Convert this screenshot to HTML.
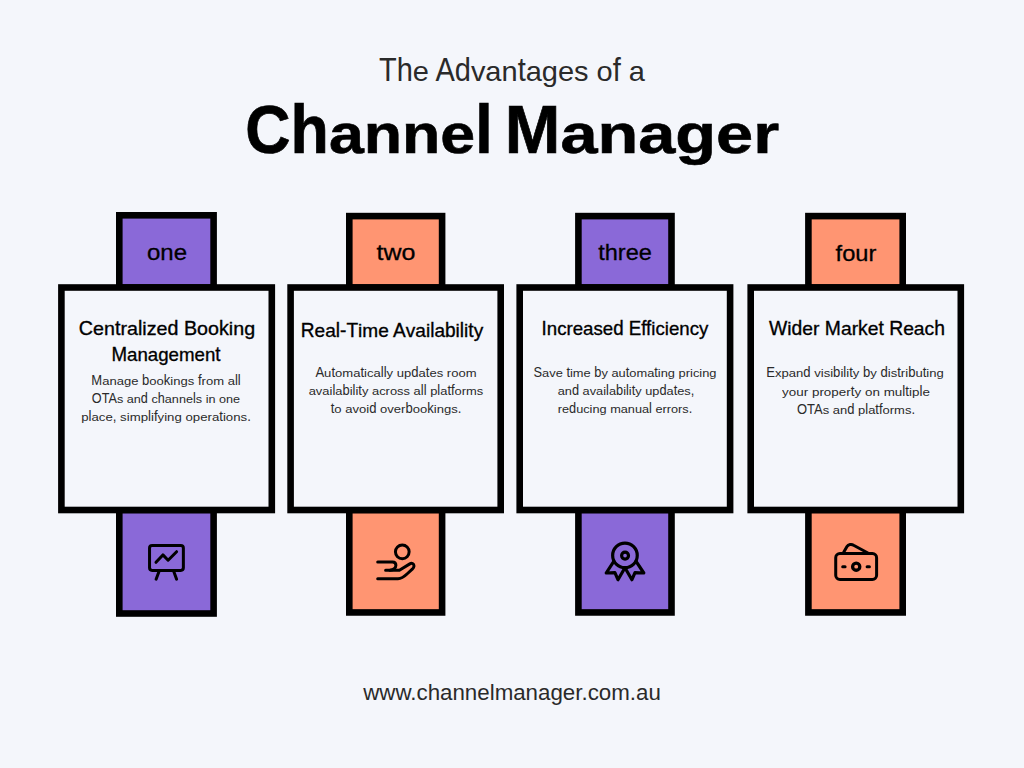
<!DOCTYPE html>
<html><head><meta charset="utf-8"><style>
html,body{margin:0;padding:0;}
body{width:1024px;height:768px;background:#F4F6FB;position:relative;overflow:hidden;font-family:"Liberation Sans",sans-serif;}
svg{position:absolute;left:0;top:0;}
.x{display:inline-block;line-height:0;}
.t{position:absolute;width:1000px;height:0;line-height:0;text-align:center;white-space:nowrap;transform-origin:500px 0;}
</style></head><body>
<svg width="1024" height="768" viewBox="0 0 1024 768">
<rect x="116.00" y="212.00" width="100.90" height="78.80" fill="#000"/>
<rect x="122.60" y="218.60" width="87.70" height="65.60" fill="#8A69D8"/>
<rect x="116.00" y="506.70" width="100.90" height="110.10" fill="#000"/>
<rect x="122.60" y="513.30" width="87.70" height="96.90" fill="#8A69D8"/>
<rect x="58.10" y="284.20" width="217.00" height="229.10" fill="#000"/>
<rect x="64.70" y="290.80" width="203.80" height="215.90" fill="#F4F6FB"/>
<rect x="346.00" y="212.80" width="99.40" height="78.00" fill="#000"/>
<rect x="352.60" y="219.40" width="86.20" height="64.80" fill="#FF9572"/>
<rect x="346.00" y="506.70" width="99.40" height="109.05" fill="#000"/>
<rect x="352.60" y="513.30" width="86.20" height="95.85" fill="#FF9572"/>
<rect x="287.30" y="284.20" width="216.70" height="229.10" fill="#000"/>
<rect x="293.90" y="290.80" width="203.50" height="215.90" fill="#F4F6FB"/>
<rect x="575.10" y="212.80" width="99.70" height="78.00" fill="#000"/>
<rect x="581.70" y="219.40" width="86.50" height="64.80" fill="#8A69D8"/>
<rect x="575.10" y="506.70" width="99.70" height="109.05" fill="#000"/>
<rect x="581.70" y="513.30" width="86.50" height="95.85" fill="#8A69D8"/>
<rect x="516.40" y="284.20" width="217.00" height="229.10" fill="#000"/>
<rect x="523.00" y="290.80" width="203.80" height="215.90" fill="#F4F6FB"/>
<rect x="805.10" y="212.80" width="100.90" height="78.00" fill="#000"/>
<rect x="811.70" y="219.40" width="87.70" height="64.80" fill="#FF9572"/>
<rect x="805.10" y="506.70" width="100.90" height="109.05" fill="#000"/>
<rect x="811.70" y="513.30" width="87.70" height="95.85" fill="#FF9572"/>
<rect x="747.40" y="284.20" width="216.70" height="229.10" fill="#000"/>
<rect x="754.00" y="290.80" width="203.50" height="215.90" fill="#F4F6FB"/>
<g fill="none" stroke="#000" stroke-linecap="round" stroke-linejoin="round">

<g stroke-width="3.0">
<rect x="149.54" y="545.45" width="33.83" height="25.01" rx="2.6"/>
<path d="M156.0 562.3 L162.9 554.9 L168.1 560.2 L176.6 551.7"/>
<path d="M159.1 571.2 L156.1 579.2 M173.7 571.2 L176.6 579.2"/>
</g>
<g stroke-width="3.0">
<circle cx="402.29" cy="551.85" r="6.85"/>
<path d="M377.7 561.97 H392.5 C395 561.97 395.9 563.6 395.9 565.3 C395.9 567.8 393.5 570.17 390 570.17"/>
<path d="M385.6 570.17 H399.4 L409.8 563.9 C411.8 562.7 414 563.6 414 566 C414 567.2 413.3 568.2 412.3 569.2 L407 574 C404.5 576.4 401.5 578.66 398 578.66 H377.7"/>
</g>
<g stroke-width="3.2">
<circle cx="624.95" cy="555.4" r="12.3"/>
<circle cx="625.05" cy="555.6" r="3.45"/>
<path d="M624.95 567.7 L617.98 579.7 L614.9 572.6 L606.2 573.0 L613.8 561.3"/>
<path d="M624.95 567.7 L631.92 579.7 L635.0 572.6 L643.8 573.0 L636.1 561.3"/>
</g>
<g stroke-width="3.0">
<rect x="835.72" y="553.47" width="40.88" height="25.93" rx="4.2"/>
<circle cx="856.2" cy="566.65" r="3.6" stroke-width="3.3"/>
<path d="M842.7 566.65 H845.1 M867.1 566.65 H869.4"/>
<path d="M843.7 552.3 L847.0 546.5 C848.3 544.3 851.6 543.9 853.6 545.2 L867.9 553.0"/>
</g>

</g>
</svg>
<div class="t" style="left:11.80px;top:69.61px;font-size:33.40px;font-weight:normal;transform:scaleX(0.8683);color:#2a2a2a;">Th<span class="x" style="transform:scaleY(0.820);transform-origin:0 11.50px">e</span> Ad<span class="x" style="transform:scaleY(0.820);transform-origin:0 11.50px">van</span>t<span class="x" style="transform:scaleY(0.820);transform-origin:0 11.50px">ages</span> <span class="x" style="transform:scaleY(0.820);transform-origin:0 11.50px">o</span>f <span class="x" style="transform:scaleY(0.820);transform-origin:0 11.50px">a</span></div>
<div class="t" style="left:-130.80px;top:129.10px;font-size:68.00px;font-weight:bold;transform:scaleX(0.9217);color:#000;-webkit-text-stroke:0.7px #000;">Ch<span class="x" style="transform:scaleY(0.810);transform-origin:0 24.00px">anne</span>l</div>
<div class="t" style="left:141.60px;top:129.10px;font-size:68.00px;font-weight:bold;transform:scaleX(0.9810);color:#000;-webkit-text-stroke:0.7px #000;">M<span class="x" style="transform:scaleY(0.810);transform-origin:0 24.00px">anager</span></div>
<div class="t" style="left:-333.50px;top:251.91px;font-size:22.70px;font-weight:normal;transform:scaleX(1.0582);color:#000;-webkit-text-stroke:0.3px #000;">one</div>
<div class="t" style="left:-103.90px;top:252.22px;font-size:22.70px;font-weight:normal;transform:scaleX(1.1014);color:#000;-webkit-text-stroke:0.3px #000;">two</div>
<div class="t" style="left:124.60px;top:251.72px;font-size:22.70px;font-weight:normal;transform:scaleX(1.0385);color:#000;-webkit-text-stroke:0.3px #000;">three</div>
<div class="t" style="left:356.20px;top:252.72px;font-size:22.70px;font-weight:normal;transform:scaleX(1.0424);color:#000;-webkit-text-stroke:0.3px #000;">four</div>
<div class="t" style="left:-333.50px;top:327.90px;font-size:20.00px;font-weight:normal;transform:scaleX(0.9847);color:#000;-webkit-text-stroke:0.35px #000;">C<span class="x" style="transform:scaleY(0.890);transform-origin:0 7.00px">en</span>t<span class="x" style="transform:scaleY(0.890);transform-origin:0 7.00px">ra</span>l<span class="x" style="transform:scaleY(0.890);transform-origin:0 7.00px">ize</span>d B<span class="x" style="transform:scaleY(0.890);transform-origin:0 7.00px">oo</span>k<span class="x" style="transform:scaleY(0.890);transform-origin:0 7.00px">ing</span></div>
<div class="t" style="left:-333.90px;top:354.01px;font-size:20.00px;font-weight:normal;transform:scaleX(0.9345);color:#000;-webkit-text-stroke:0.35px #000;">M<span class="x" style="transform:scaleY(0.890);transform-origin:0 7.00px">anagemen</span>t</div>
<div class="t" style="left:-108.00px;top:329.90px;font-size:20.00px;font-weight:normal;transform:scaleX(0.9535);color:#000;-webkit-text-stroke:0.35px #000;">R<span class="x" style="transform:scaleY(0.890);transform-origin:0 7.00px">ea</span>l-T<span class="x" style="transform:scaleY(0.890);transform-origin:0 7.00px">ime</span> A<span class="x" style="transform:scaleY(0.890);transform-origin:0 7.00px">vai</span>l<span class="x" style="transform:scaleY(0.890);transform-origin:0 7.00px">a</span>b<span class="x" style="transform:scaleY(0.890);transform-origin:0 7.00px">i</span>l<span class="x" style="transform:scaleY(0.890);transform-origin:0 7.00px">i</span>t<span class="x" style="transform:scaleY(0.890);transform-origin:0 7.00px">y</span></div>
<div class="t" style="left:124.70px;top:327.90px;font-size:20.00px;font-weight:normal;transform:scaleX(0.9337);color:#000;-webkit-text-stroke:0.35px #000;">I<span class="x" style="transform:scaleY(0.890);transform-origin:0 7.00px">ncrease</span>d Eff<span class="x" style="transform:scaleY(0.890);transform-origin:0 7.00px">iciency</span></div>
<div class="t" style="left:356.50px;top:327.90px;font-size:20.00px;font-weight:normal;transform:scaleX(0.9652);color:#000;-webkit-text-stroke:0.35px #000;">W<span class="x" style="transform:scaleY(0.890);transform-origin:0 7.00px">i</span>d<span class="x" style="transform:scaleY(0.890);transform-origin:0 7.00px">er</span> M<span class="x" style="transform:scaleY(0.890);transform-origin:0 7.00px">ar</span>k<span class="x" style="transform:scaleY(0.890);transform-origin:0 7.00px">e</span>t R<span class="x" style="transform:scaleY(0.890);transform-origin:0 7.00px">eac</span>h</div>
<div class="t" style="left:-333.60px;top:380.81px;font-size:13.80px;font-weight:normal;transform:scaleX(0.9452);color:#2a2a2a;">M<span class="x" style="transform:scaleY(0.840);transform-origin:0 4.50px">anage</span> b<span class="x" style="transform:scaleY(0.840);transform-origin:0 4.50px">oo</span>k<span class="x" style="transform:scaleY(0.840);transform-origin:0 4.50px">ings</span> f<span class="x" style="transform:scaleY(0.840);transform-origin:0 4.50px">rom</span> <span class="x" style="transform:scaleY(0.840);transform-origin:0 4.50px">a</span>ll</div>
<div class="t" style="left:-333.80px;top:398.81px;font-size:13.80px;font-weight:normal;transform:scaleX(0.9169);color:#2a2a2a;">OTA<span class="x" style="transform:scaleY(0.840);transform-origin:0 4.50px">s</span> <span class="x" style="transform:scaleY(0.840);transform-origin:0 4.50px">an</span>d <span class="x" style="transform:scaleY(0.840);transform-origin:0 4.50px">c</span>h<span class="x" style="transform:scaleY(0.840);transform-origin:0 4.50px">anne</span>l<span class="x" style="transform:scaleY(0.840);transform-origin:0 4.50px">s</span> <span class="x" style="transform:scaleY(0.840);transform-origin:0 4.50px">in</span> <span class="x" style="transform:scaleY(0.840);transform-origin:0 4.50px">one</span></div>
<div class="t" style="left:-334.20px;top:417.21px;font-size:13.80px;font-weight:normal;transform:scaleX(0.9572);color:#2a2a2a;"><span class="x" style="transform:scaleY(0.840);transform-origin:0 4.50px">p</span>l<span class="x" style="transform:scaleY(0.840);transform-origin:0 4.50px">ace</span>, <span class="x" style="transform:scaleY(0.840);transform-origin:0 4.50px">simp</span>l<span class="x" style="transform:scaleY(0.840);transform-origin:0 4.50px">i</span>f<span class="x" style="transform:scaleY(0.840);transform-origin:0 4.50px">ying</span> <span class="x" style="transform:scaleY(0.840);transform-origin:0 4.50px">opera</span>t<span class="x" style="transform:scaleY(0.840);transform-origin:0 4.50px">ions</span>.</div>
<div class="t" style="left:-104.10px;top:373.00px;font-size:13.80px;font-weight:normal;transform:scaleX(0.9459);color:#2a2a2a;">A<span class="x" style="transform:scaleY(0.840);transform-origin:0 4.50px">u</span>t<span class="x" style="transform:scaleY(0.840);transform-origin:0 4.50px">oma</span>t<span class="x" style="transform:scaleY(0.840);transform-origin:0 4.50px">ica</span>ll<span class="x" style="transform:scaleY(0.840);transform-origin:0 4.50px">y</span> <span class="x" style="transform:scaleY(0.840);transform-origin:0 4.50px">up</span>d<span class="x" style="transform:scaleY(0.840);transform-origin:0 4.50px">a</span>t<span class="x" style="transform:scaleY(0.840);transform-origin:0 4.50px">es</span> <span class="x" style="transform:scaleY(0.840);transform-origin:0 4.50px">room</span></div>
<div class="t" style="left:-104.20px;top:391.00px;font-size:13.80px;font-weight:normal;transform:scaleX(0.9363);color:#2a2a2a;"><span class="x" style="transform:scaleY(0.840);transform-origin:0 4.50px">avai</span>l<span class="x" style="transform:scaleY(0.840);transform-origin:0 4.50px">a</span>b<span class="x" style="transform:scaleY(0.840);transform-origin:0 4.50px">i</span>l<span class="x" style="transform:scaleY(0.840);transform-origin:0 4.50px">i</span>t<span class="x" style="transform:scaleY(0.840);transform-origin:0 4.50px">y</span> <span class="x" style="transform:scaleY(0.840);transform-origin:0 4.50px">across</span> <span class="x" style="transform:scaleY(0.840);transform-origin:0 4.50px">a</span>ll <span class="x" style="transform:scaleY(0.840);transform-origin:0 4.50px">p</span>l<span class="x" style="transform:scaleY(0.840);transform-origin:0 4.50px">a</span>tf<span class="x" style="transform:scaleY(0.840);transform-origin:0 4.50px">orms</span></div>
<div class="t" style="left:-104.10px;top:409.31px;font-size:13.80px;font-weight:normal;transform:scaleX(0.9460);color:#2a2a2a;">t<span class="x" style="transform:scaleY(0.840);transform-origin:0 4.50px">o</span> <span class="x" style="transform:scaleY(0.840);transform-origin:0 4.50px">avoi</span>d <span class="x" style="transform:scaleY(0.840);transform-origin:0 4.50px">over</span>b<span class="x" style="transform:scaleY(0.840);transform-origin:0 4.50px">oo</span>k<span class="x" style="transform:scaleY(0.840);transform-origin:0 4.50px">ings</span>.</div>
<div class="t" style="left:124.80px;top:373.00px;font-size:13.80px;font-weight:normal;transform:scaleX(0.9313);color:#2a2a2a;">S<span class="x" style="transform:scaleY(0.840);transform-origin:0 4.50px">ave</span> t<span class="x" style="transform:scaleY(0.840);transform-origin:0 4.50px">ime</span> b<span class="x" style="transform:scaleY(0.840);transform-origin:0 4.50px">y</span> <span class="x" style="transform:scaleY(0.840);transform-origin:0 4.50px">au</span>t<span class="x" style="transform:scaleY(0.840);transform-origin:0 4.50px">oma</span>t<span class="x" style="transform:scaleY(0.840);transform-origin:0 4.50px">ing</span> <span class="x" style="transform:scaleY(0.840);transform-origin:0 4.50px">pricing</span></div>
<div class="t" style="left:125.70px;top:391.00px;font-size:13.80px;font-weight:normal;transform:scaleX(0.9267);color:#2a2a2a;"><span class="x" style="transform:scaleY(0.840);transform-origin:0 4.50px">an</span>d <span class="x" style="transform:scaleY(0.840);transform-origin:0 4.50px">avai</span>l<span class="x" style="transform:scaleY(0.840);transform-origin:0 4.50px">a</span>b<span class="x" style="transform:scaleY(0.840);transform-origin:0 4.50px">i</span>l<span class="x" style="transform:scaleY(0.840);transform-origin:0 4.50px">i</span>t<span class="x" style="transform:scaleY(0.840);transform-origin:0 4.50px">y</span> <span class="x" style="transform:scaleY(0.840);transform-origin:0 4.50px">up</span>d<span class="x" style="transform:scaleY(0.840);transform-origin:0 4.50px">a</span>t<span class="x" style="transform:scaleY(0.840);transform-origin:0 4.50px">es</span>,</div>
<div class="t" style="left:124.70px;top:409.31px;font-size:13.80px;font-weight:normal;transform:scaleX(0.9227);color:#2a2a2a;"><span class="x" style="transform:scaleY(0.840);transform-origin:0 4.50px">re</span>d<span class="x" style="transform:scaleY(0.840);transform-origin:0 4.50px">ucing</span> <span class="x" style="transform:scaleY(0.840);transform-origin:0 4.50px">manua</span>l <span class="x" style="transform:scaleY(0.840);transform-origin:0 4.50px">errors</span>.</div>
<div class="t" style="left:355.00px;top:373.00px;font-size:13.80px;font-weight:normal;transform:scaleX(0.9487);color:#2a2a2a;">E<span class="x" style="transform:scaleY(0.840);transform-origin:0 4.50px">xpan</span>d <span class="x" style="transform:scaleY(0.840);transform-origin:0 4.50px">visi</span>b<span class="x" style="transform:scaleY(0.840);transform-origin:0 4.50px">i</span>l<span class="x" style="transform:scaleY(0.840);transform-origin:0 4.50px">i</span>t<span class="x" style="transform:scaleY(0.840);transform-origin:0 4.50px">y</span> b<span class="x" style="transform:scaleY(0.840);transform-origin:0 4.50px">y</span> d<span class="x" style="transform:scaleY(0.840);transform-origin:0 4.50px">is</span>t<span class="x" style="transform:scaleY(0.840);transform-origin:0 4.50px">ri</span>b<span class="x" style="transform:scaleY(0.840);transform-origin:0 4.50px">u</span>t<span class="x" style="transform:scaleY(0.840);transform-origin:0 4.50px">ing</span></div>
<div class="t" style="left:356.30px;top:391.50px;font-size:13.80px;font-weight:normal;transform:scaleX(0.9731);color:#2a2a2a;"><span class="x" style="transform:scaleY(0.840);transform-origin:0 4.50px">your</span> <span class="x" style="transform:scaleY(0.840);transform-origin:0 4.50px">proper</span>t<span class="x" style="transform:scaleY(0.840);transform-origin:0 4.50px">y</span> <span class="x" style="transform:scaleY(0.840);transform-origin:0 4.50px">on</span> <span class="x" style="transform:scaleY(0.840);transform-origin:0 4.50px">mu</span>lt<span class="x" style="transform:scaleY(0.840);transform-origin:0 4.50px">ip</span>l<span class="x" style="transform:scaleY(0.840);transform-origin:0 4.50px">e</span></div>
<div class="t" style="left:356.20px;top:410.21px;font-size:13.80px;font-weight:normal;transform:scaleX(0.9401);color:#2a2a2a;">OTA<span class="x" style="transform:scaleY(0.840);transform-origin:0 4.50px">s</span> <span class="x" style="transform:scaleY(0.840);transform-origin:0 4.50px">an</span>d <span class="x" style="transform:scaleY(0.840);transform-origin:0 4.50px">p</span>l<span class="x" style="transform:scaleY(0.840);transform-origin:0 4.50px">a</span>tf<span class="x" style="transform:scaleY(0.840);transform-origin:0 4.50px">orms</span>.</div>
<div class="t" style="left:12.40px;top:691.80px;font-size:22.70px;font-weight:normal;transform:scaleX(0.9832);color:#2a2a2a;">www.channelmanager.com.au</div>
</body></html>
